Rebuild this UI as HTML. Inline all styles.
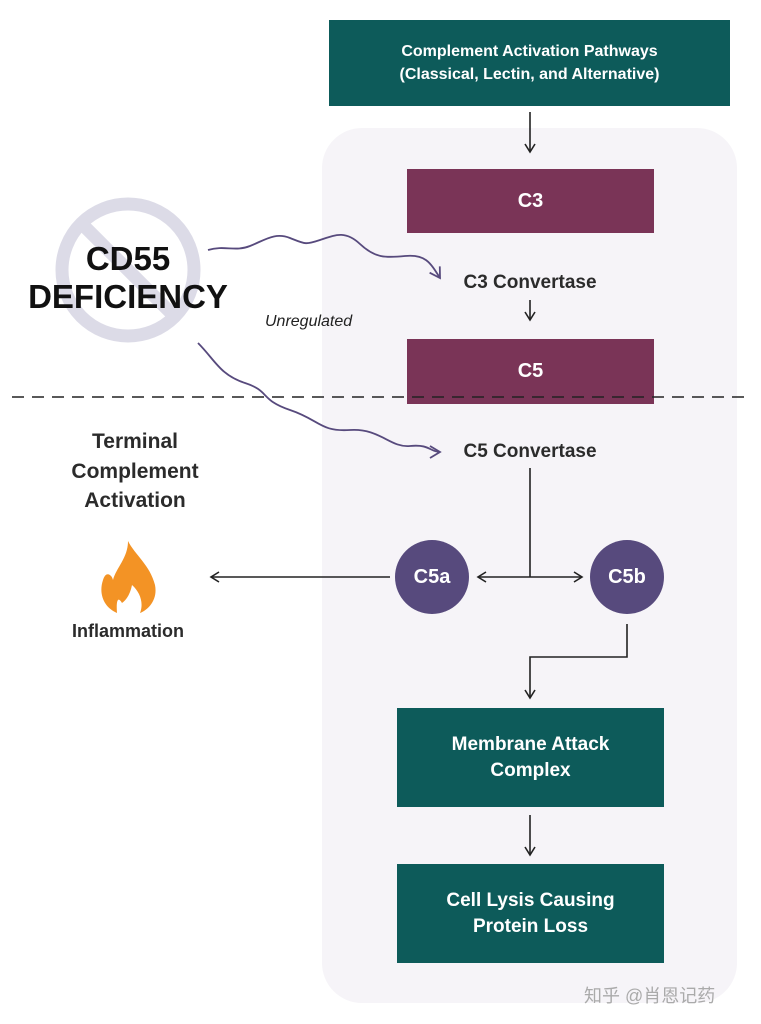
<!DOCTYPE html>
<html><head><meta charset="utf-8"><style>
body{margin:0;width:761px;height:1024px;background:#fff;position:relative;overflow:hidden;font-family:"Liberation Sans","Noto Sans CJK SC",sans-serif}
.a{position:absolute}
.box{position:absolute;color:#fff;font-weight:bold;display:flex;align-items:center;justify-content:center;text-align:center}
.t{position:absolute;font-weight:bold;color:#2b2b2b;text-align:center}
</style></head><body>
<div class="a" style="left:322px;top:128px;width:415px;height:875px;background:#f6f4f8;border-radius:40px"></div>
<div class="box" style="left:329px;top:20px;width:401px;height:86px;background:#0d5b5a;font-size:16px;line-height:23px">Complement Activation Pathways<br>(Classical, Lectin, and Alternative)</div>
<div class="box" style="left:407px;top:169px;width:247px;height:64px;background:#7a3457;font-size:20px">C3</div>
<div class="box" style="left:407px;top:339px;width:247px;height:65px;background:#7a3457;font-size:20px">C5</div>
<div class="t" style="left:430px;top:272px;width:200px;font-size:19px">C3 Convertase</div>
<div class="t" style="left:430px;top:441px;width:200px;font-size:19px">C5 Convertase</div>
<div class="box" style="left:395px;top:540px;width:74px;height:74px;border-radius:50%;background:#574a7d;font-size:20px">C5a</div>
<div class="box" style="left:590px;top:540px;width:74px;height:74px;border-radius:50%;background:#574a7d;font-size:20px">C5b</div>
<div class="box" style="left:397px;top:708px;width:267px;height:99px;background:#0d5b5a;font-size:19px;line-height:26px">Membrane Attack<br>Complex</div>
<div class="box" style="left:397px;top:864px;width:267px;height:99px;background:#0d5b5a;font-size:19px;line-height:26px">Cell Lysis Causing<br>Protein Loss</div>
<svg class="a" style="left:0;top:0" width="761" height="1024">
<defs><marker id="m" markerWidth="12" markerHeight="12" refX="10" refY="6" orient="auto" markerUnits="userSpaceOnUse"><path d="M2,1 L10,6 L2,11" fill="none" stroke="#222" stroke-width="1.6"/></marker>
<marker id="p" markerWidth="14" markerHeight="14" refX="12" refY="7" orient="auto" markerUnits="userSpaceOnUse"><path d="M2,1 L12,7 L2,13" fill="none" stroke="#574a7d" stroke-width="1.8"/></marker></defs>
<circle cx="128" cy="270" r="66" fill="none" stroke="#dcdbe7" stroke-width="13"/>
<line x1="82" y1="224" x2="174" y2="316" stroke="#dcdbe7" stroke-width="13"/>
<g stroke="#222" stroke-width="1.6" fill="none">
<line x1="530" y1="112" x2="530" y2="152" marker-end="url(#m)"/>
<line x1="530" y1="300" x2="530" y2="320" marker-end="url(#m)"/>
<line x1="530" y1="468" x2="530" y2="577"/>
<line x1="530" y1="577" x2="478" y2="577" marker-end="url(#m)"/>
<line x1="530" y1="577" x2="582" y2="577" marker-end="url(#m)"/>
<line x1="390" y1="577" x2="211" y2="577" marker-end="url(#m)"/>
<polyline points="627,624 627,657 530,657 530,698" marker-end="url(#m)"/>
<line x1="530" y1="815" x2="530" y2="855" marker-end="url(#m)"/>
</g>
<line x1="12" y1="397" x2="750" y2="397" stroke="#222" stroke-width="1.6" stroke-dasharray="12,8"/>
<g stroke="#574a7d" stroke-width="1.8" fill="none">
<path d="M208,250 C225,245 235,252 250,246 S275,232 290,238 S305,245 320,240 S345,230 360,244 S385,258 405,256 S430,262 440,278" marker-end="url(#p)"/>
<path d="M198,343 C215,360 220,375 245,383 S260,400 290,410 S320,432 350,430 S390,448 410,446 S430,452 440,452" marker-end="url(#p)"/>
</g>
<path d="M128,541 C135,555 150,565 155,585 C158,600 148,610 140,613 C144,603 140,592 132,585 C130,595 126,600 122,603 C118,596 116,600 117,613 C105,608 98,595 103,580 C106,570 112,575 113,580 C116,568 128,558 128,541Z" fill="#f39325"/>
</svg>
<div class="t" style="left:10px;top:240px;width:236px;font-size:33px;line-height:38px;color:#111;font-weight:900">CD55<br>DEFICIENCY</div>
<div class="a" style="left:265px;top:313px;font-size:16px;font-style:italic;color:#222">Unregulated</div>
<div class="t" style="left:30px;top:427px;width:210px;font-size:21px;line-height:29.5px">Terminal<br>Complement<br>Activation</div>
<div class="t" style="left:40px;top:621px;width:176px;font-size:18px">Inflammation</div>
<div class="a" style="left:584px;top:982px;font-size:18px;color:#aaa">知乎 @肖恩记药</div>
</body></html>
